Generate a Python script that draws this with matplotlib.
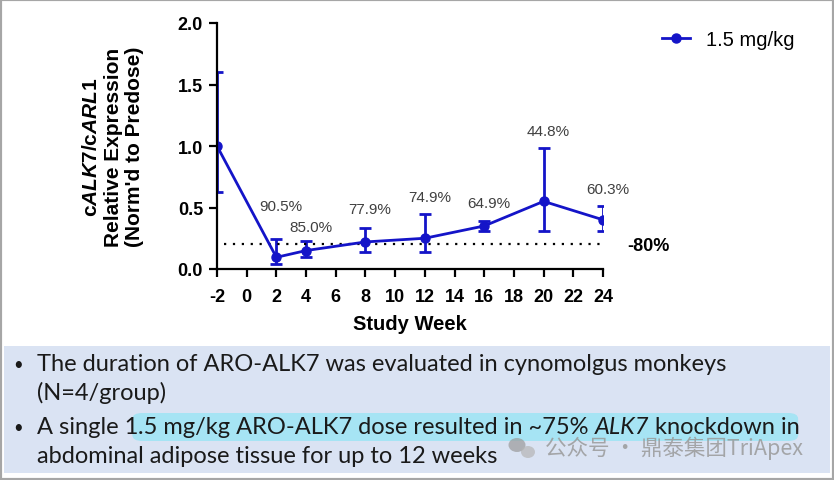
import numpy as np
import matplotlib
matplotlib.use("Agg")
from matplotlib import pyplot as plt
from matplotlib.patches import Rectangle, FancyBboxPatch, Ellipse
from matplotlib.lines import Line2D

# data
weeks = [-2, 2, 4, 8, 12, 16, 20, 24]
expr = [1.00, 0.095, 0.15, 0.22, 0.25, 0.35, 0.55, 0.40]
err_low = [0.37, 0.055, 0.05, 0.08, 0.11, 0.04, 0.24, 0.09]
err_high = [0.60, 0.145, 0.08, 0.11, 0.20, 0.04, 0.43, 0.11]
pct_labels = ["", "90.5%", "85.0%", "77.9%", "74.9%", "64.9%", "44.8%", "60.3%"]
target = 0.2
xticks = list(range(-2, 25, 2))
yticks = [0.0, 0.5, 1.0, 1.5, 2.0]
line1 = "The duration of ARO-ALK7 was evaluated in cynomolgus monkeys"
line2 = "(N=4/group)"
line3 = ["A single 1", ".5 mg/kg ARO-ALK7 dose resulted in ~75% ", "ALK7", " knockdown in"]
line4 = "abdominal adipose tissue for up to 12 weeks"

# where each % label sits (data y), layout only
label_y = [0, 0.51, 0.34, 0.49, 0.585, 0.54, 1.12, 0.65]

W, H = 834, 481
blue = "#1414c8"
plt.rcParams["font.family"] = ["Liberation Sans", "DejaVu Sans"]
plt.rcParams["mathtext.fontset"] = "custom"
plt.rcParams["mathtext.it"] = "Liberation Sans:italic:bold"
plt.rcParams["mathtext.rm"] = "Liberation Sans:bold"


def fx(x):
    return x / W


def fy(y):
    return 1 - y / H


fig = plt.figure(figsize=(W / 100, H / 100), dpi=100)

# page border and text box
fig.patches.append(Rectangle((0, 0), 1, 1, transform=fig.transFigure, fill=False,
                             ec="#a6a6a6", lw=3))
fig.patches.append(Rectangle((fx(4), fy(474)), fx(826), 127 / H, transform=fig.transFigure,
                             fc="#dae3f3", ec="none"))

ax = fig.add_axes([fx(217), fy(270), fx(386), 246 / H])
ax.errorbar(weeks, expr, yerr=[err_low, err_high], color=blue, lw=2, marker="o", ms=6.5,
            capsize=4.5, capthick=2, elinewidth=2)
ax.plot([-1.5, 23.8], [target, target], ls=(0, (1, 3)), color="black", lw=1.6)
for x, y, t in zip(weeks, label_y, pct_labels):
    if t:
        ax.text(x + 0.3, y, t, ha="center", va="center", fontsize=11, color="#404040")

ax.set_xlim(-2, 24)
ax.set_ylim(0, 2.0)
ax.set_xticks(xticks)
ax.set_yticks(yticks)
ax.set_xticklabels([str(t) for t in xticks], fontsize=13, fontweight="bold")
ax.set_yticklabels([f"{t:.1f}" for t in yticks], fontsize=13, fontweight="bold")
for s in ["top", "right"]:
    ax.spines[s].set_visible(False)
for s in ["left", "bottom"]:
    ax.spines[s].set_linewidth(1.6)
ax.tick_params(width=1.6, length=6)
ax.tick_params(axis="x", pad=8)
ax.tick_params(axis="y", pad=4)
ax.set_xlabel("Study Week", fontsize=14.5, fontweight="bold", labelpad=6)
ax.set_ylabel("c$\\mathit{ALK7}$/c$\\mathit{ARL1}$\nRelative Expression\n(Norm'd to Predose)",
              fontsize=15, fontweight="bold", linespacing=1.18, labelpad=24)
ax.patch.set_alpha(0)

fig.text(fx(627), fy(247), "-80%", fontsize=13, fontweight="bold", va="center", ha="left")
handle = Line2D([], [], color=blue, lw=2, marker="o", ms=6.5)
fig.legend([handle], ["1.5 mg/kg"], loc="center left", bbox_to_anchor=(fx(644), fy(41)),
           frameon=False, fontsize=14.5, handlelength=1.4, handletextpad=0.8)

# bullet text
bfont = ["Lato", "DejaVu Sans"]
bsize = 17
tcol = "#1a1a1a"
for y in [365, 428]:
    fig.text(fx(13), fy(y), "•", fontsize=12, va="center", family=bfont, color=tcol)
fig.text(fx(37), fy(365), line1, fontsize=bsize, va="center", family=bfont, color=tcol)
fig.text(fx(37), fy(393), line2, fontsize=bsize, va="center", family=bfont, color=tcol)
fig.text(fx(37), fy(457), line4, fontsize=bsize, va="center", family=bfont, color=tcol)

# line 3 is made of pieces (italic gene name, highlight behind part of it)
renderer = fig.canvas.get_renderer()
xpos = fx(37)
hl_start = None
for i, piece in enumerate(line3):
    style = "italic" if piece == "ALK7" else "normal"
    t = fig.text(xpos, fy(428), piece, fontsize=bsize, va="center", family=bfont,
                 color=tcol, style=style, zorder=3)
    bb = t.get_window_extent(renderer)
    if i == 1:
        hl_start = bb.x0
    xpos = bb.x1 / W
hl_end = xpos * W
fig.patches.append(FancyBboxPatch((hl_start / W - fx(6), fy(442)), hl_end / W - hl_start / W + fx(4),
                                  28 / H, transform=fig.transFigure,
                                  boxstyle="round,pad=0,rounding_size=0.012",
                                  fc="#a6e4f4", ec="none", zorder=1))

# watermark
fig.patches.append(Ellipse((fx(517), fy(446)), 17 / W, 14 / H, transform=fig.transFigure,
                           fc="#9a9a9a", ec="none", alpha=0.7, zorder=4))
fig.patches.append(Ellipse((fx(528), fy(453)), 14 / W, 12 / H, transform=fig.transFigure,
                           fc="#b5b5b5", ec="none", alpha=0.7, zorder=4))
fig.text(fx(545), fy(448), "公众号 · 鼎泰集团TriApex", fontsize=15.5, va="center", color="#9a9a9a",
         alpha=0.85, family=["Noto Sans CJK SC", "DejaVu Sans"], zorder=5)

fig.savefig("out.png", dpi=100)
